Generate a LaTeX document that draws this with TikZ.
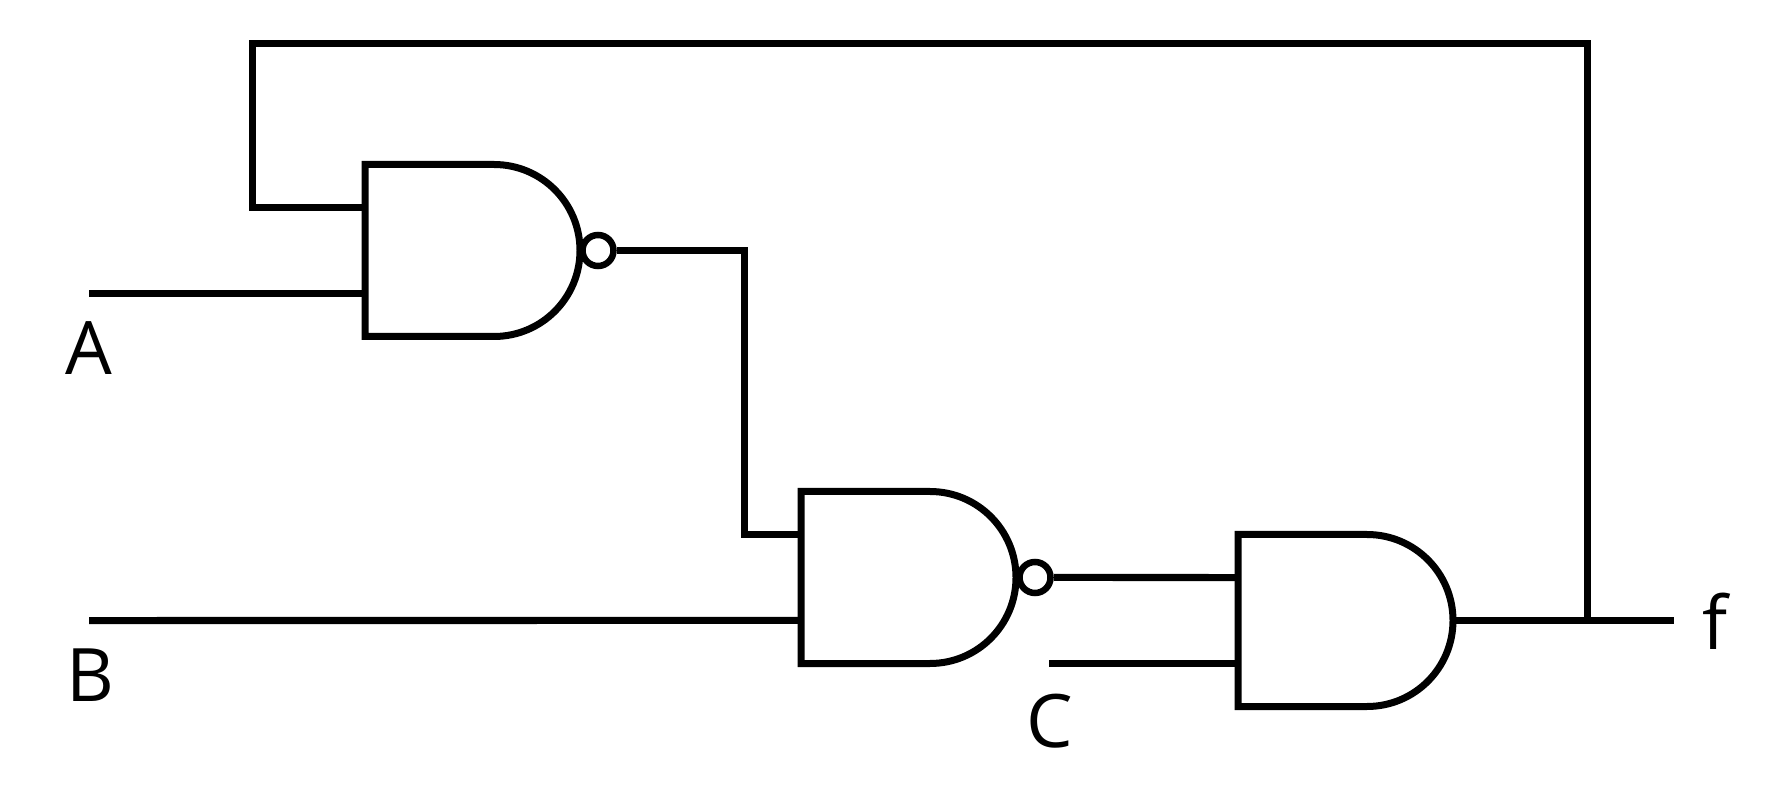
\documentclass[tikz,border=0pt]{standalone}
\usepackage{fontspec}
\usepackage{xcolor}
\usepackage{tikz}
\setmainfont{Open Sans}
\tikzset{
wire/.style={line width=0.07cm},
bubble/.style={draw, circle, line width=0.065cm, inner sep=0pt, minimum size=0.31cm},
pinlabel/.style={inner sep=0pt, font=\fontsize{21}{21}\selectfont}
}

\begin{document}
\begin{tikzpicture}
\useasboundingbox (0,0) rectangle (17.9,8.11);
\foreach \g/\x/\y in {first/3.65/5.605, second/8.01/2.335, third/12.38/1.905} {
\draw[wire] (\x+1.29,\y+0.86) -- (\x,\y+0.86) -- (\x,\y-0.86) -- (\x+1.29,\y-0.86) arc (-90:90:0.86);
\coordinate (\g a) at (\x,\y+0.43);
\coordinate (\g b) at (\x,\y-0.43);
\coordinate (\g out) at (\x+2.15,\y);
}
\node[bubble] (firstnot) at (5.98,5.605) {};
\node[bubble] (secondnot) at (10.35,2.335) {};

\coordinate (astart) at (0.89,5.175);
\coordinate (bstart) at (0.89,1.905);
\coordinate (cstart) at (10.49,1.475);
\coordinate (fend) at (16.74,1.905);
\coordinate (bend) at (7.44,5.605);
\coordinate (fbjoin) at (15.87,1.905);
\coordinate (fbright) at (15.87,7.675);
\coordinate (fbleft) at (2.52,7.675);

\draw[wire] (astart) -- (firstb);
\draw[wire] (bstart) -- (secondb);
\draw[wire] (cstart) -- (thirdb);
\draw[wire] (firstnot.east) -- (bend) -- (bend |- seconda) -- (seconda);
\draw[wire] (secondnot.east) -- (thirda);
\draw[wire] (thirdout) -- (fend);
\draw[wire] (fbjoin) -- (fbright) -- (fbleft) -- (fbleft |- firsta) -- (firsta);

\node[pinlabel] (labela) at (0.89,4.63) {A};
\node[pinlabel] (labelb) at (0.90,1.36) {B};
\node[pinlabel] (labelc) at (10.50,0.90) {C};
\node[pinlabel] (labelf) at (17.15,1.90) {f};
\end{tikzpicture}
\end{document}
